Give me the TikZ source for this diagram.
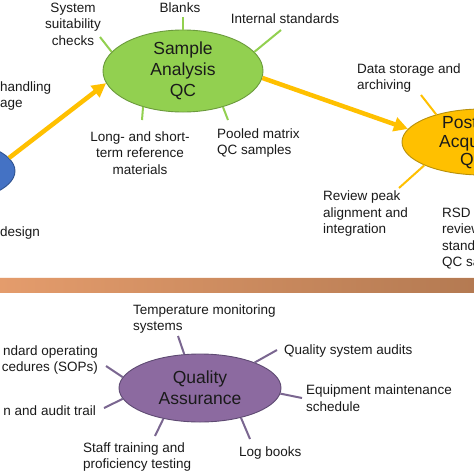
\documentclass[tikz,border=0pt]{standalone}
\usepackage{fontspec}
\setmainfont{Liberation Sans}
\usetikzlibrary{shapes.geometric,arrows.meta}
\definecolor{gfill}{HTML}{92D050}
\definecolor{gline}{HTML}{6B9A3C}
\definecolor{yfill}{HTML}{FFC000}
\definecolor{yline}{HTML}{B8900A}
\definecolor{bfill}{HTML}{4472C4}
\definecolor{bline}{HTML}{2F528F}
\definecolor{pfill}{HTML}{8C6AA0}
\definecolor{pline}{HTML}{5E4A72}
\definecolor{pspoke}{HTML}{7A6690}
\definecolor{txt}{HTML}{1A1A1A}
\definecolor{barL}{HTML}{E49C6C}
\definecolor{barR}{HTML}{B47A52}
\tikzset{
  bubble/.style={ellipse, minimum width=160pt, minimum height=66pt, inner sep=0pt, line width=0.9pt, align=center, text=txt, font=\fontsize{17.5}{21}\selectfont},
  lbl/.style={inner sep=0pt, text=txt, font=\fontsize{13.5}{16.5}\selectfont},
  gspoke/.style={draw=gfill, line width=2pt},
  yspoke/.style={draw=yfill, line width=2pt},
  pspk/.style={draw=pspoke, line width=2pt},
  flow/.style={draw=yfill, line width=4.5pt, -{Triangle[length=14pt,width=14pt]}}
}
\begin{document}
\begin{tikzpicture}[x=1pt,y=-1pt]
\useasboundingbox (0,0) rectangle (474,474);
\clip (0,0) rectangle (474,474);
\fill[white] (0,0) rectangle (474,474);

% ellipses
\node[bubble, fill=bfill, draw=bline] (bl) at (-65,171) {};
\node[bubble, fill=gfill, draw=gline] (sa) at (183,71) {Sample\\Analysis\\QC};
\node[bubble, fill=yfill, draw=yline] (pa) at (482,142) {};
\node[lbl, anchor=west, align=left, font=\fontsize{17.5}{18.5}\selectfont] (patxt) at (439,143) {\hspace*{3pt}Post-Data\\Acquisition\\\hspace*{21pt}QC};
\node[bubble, minimum width=162pt, minimum height=68pt, fill=pfill, draw=pline] (qa) at (200,388) {Quality\\Assurance};

% arrows
\draw[flow] (bl.10) -- (sa.189);
\draw[flow] (sa.355) -- (pa.170);

% green labels
\node[lbl, align=center] (sys) at (73,24) {System\\suitability\\checks};
\node[lbl] (blk) at (180,8) {Blanks};
\node[lbl] (int) at (285,19) {Internal standards};
\node[lbl, align=center] (lng) at (140,153) {Long- and short-\\term reference\\materials};
\node[lbl, align=left, anchor=west] (pool) at (217,143) {Pooled matrix\\QC samples};
\coordinate (sysE) at (100,37);
\coordinate (blkE) at (183,17);
\coordinate (intE) at (281,30);
\coordinate (lngE) at (142,120);
\coordinate (poolE) at (228,120);
\draw[gspoke] (sa.165) -- (sysE);
\draw[gspoke] (sa.90) -- (blkE);
\draw[gspoke] (sa.15) -- (intE);
\draw[gspoke] (sa.222) -- (lngE);
\draw[gspoke] (sa.318) -- (poolE);

% left labels
\node[lbl, align=left, anchor=west] (hand) at (0,96) {handling\\age};
\node[lbl, anchor=west] (des) at (0,233) {design};

% yellow labels
\node[lbl, align=left, anchor=west] (dat) at (357,78) {Data storage and\\archiving};
\node[lbl, align=left, anchor=west] (rev) at (323,214) {Review peak\\alignment and\\integration};
\node[lbl, align=left, anchor=west] (rsd) at (442,238.5) {RSD\\review\\standards\\QC samples};
\coordinate (datE) at (421,95);
\coordinate (revE) at (399,188);
\draw[yspoke] (pa.149) -- (datE);
\draw[yspoke] (pa.202) -- (revE);

% separator bar
\shade[left color=barL, right color=barR] (0,277) rectangle (474,292);
\draw[white!85!barL, line width=0.8pt] (0,277.4) -- (474,277.4);

% purple labels
\node[lbl, align=left, anchor=west] (temp) at (133,319) {Temperature monitoring\\systems};
\node[lbl, anchor=west] (qsa) at (284,351) {Quality system audits};
\node[lbl, align=left, anchor=west] (equ) at (306,398) {Equipment maintenance\\schedule};
\node[lbl, anchor=west] (log) at (239,453) {Log books};
\node[lbl, align=left, anchor=west] (stf) at (83,457) {Staff training and\\proficiency testing};
\node[lbl, align=right, anchor=east] (sop) at (98,360) {ndard operating\\cedures (SOPs)};
\node[lbl, anchor=east] (aud) at (96,411) {n and audit trail};
\coordinate (tempE) at (178,336);
\coordinate (qsaE) at (277,350);
\coordinate (equE) at (302,398);
\coordinate (logE) at (250,439);
\coordinate (stfE) at (155,436);
\coordinate (sopE) at (106,366);
\coordinate (audE) at (104,408);
\draw[pspk] (qa.115) -- (tempE);
\draw[pspk] (qa.25) -- (qsaE);
\draw[pspk] (qa.-4) -- (equE);
\draw[pspk] (qa.-36) -- (logE);
\draw[pspk] (qa.220) -- (stfE);
\draw[pspk] (qa.172) -- (sopE);
\draw[pspk] (qa.188) -- (audE);
\end{tikzpicture}
\end{document}
